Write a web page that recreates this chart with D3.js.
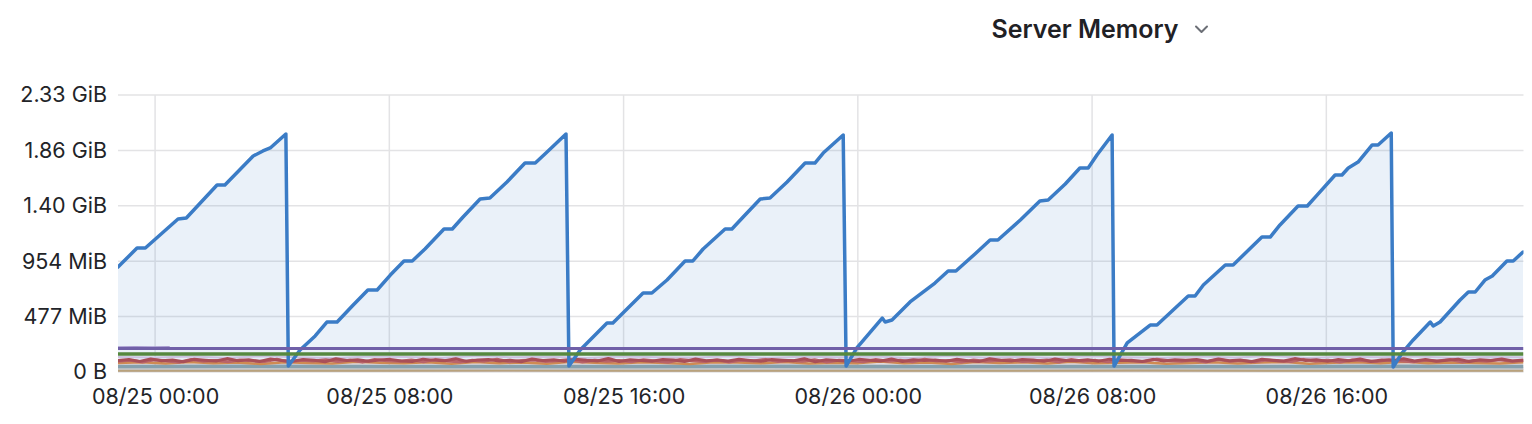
<!DOCTYPE html>
<html>
<head>
<meta charset="utf-8">
<script src="https://cdn.jsdelivr.net/npm/d3@7"></script>
<style>
  html, body { margin: 0; padding: 0; background: #ffffff; }
  svg { display: block; }
  text { font-family: Inter, Roboto, "Noto Sans", sans-serif; }
</style>
</head>
<body>
<svg id="chart" width="1532" height="424"></svg>
<script>
// ---------------- DATA ----------------
const titleText = "Server Memory";
const windowStart = "08/24 22:44";
const windowEnd = "08/26 22:44";

// y ticks (values in MB = 1e6 bytes) and their labels
const yTickValues = [0, 500, 1000, 1500, 2000, 2500];
const yTickLabels = ["0 B", "477 MiB", "954 MiB", "1.40 GiB", "1.86 GiB", "2.33 GiB"];

// x ticks
const xTickTimes = ["08/25 00:00", "08/25 08:00", "08/25 16:00", "08/26 00:00", "08/26 08:00", "08/26 16:00"];

// main (blue) series: time stamps and memory in MB
const mainTimes = [
  "08/24 22:44","08/24 23:23","08/24 23:40","08/25 00:47","08/25 01:04","08/25 02:07","08/25 02:23","08/25 03:21","08/25 03:41","08/25 03:56","08/25 04:28",
  "08/25 04:33","08/25 04:57","08/25 05:28","08/25 05:52","08/25 06:13","08/25 06:44","08/25 07:16","08/25 07:35","08/25 08:02","08/25 08:30","08/25 08:47","08/25 09:13","08/25 09:52","08/25 10:09","08/25 10:31","08/25 11:06","08/25 11:26","08/25 12:01","08/25 12:38","08/25 12:59","08/25 13:21","08/25 14:02",
  "08/25 14:08","08/25 14:31","08/25 15:26","08/25 15:38","08/25 16:40","08/25 16:58","08/25 17:29","08/25 18:06","08/25 18:22","08/25 18:43","08/25 19:28","08/25 19:42","08/25 20:05","08/25 20:40","08/25 21:00","08/25 21:35","08/25 22:12","08/25 22:32","08/25 22:49","08/25 23:30",
  "08/25 23:36","08/25 23:58","08/26 00:50","08/26 00:56","08/26 01:10","08/26 01:47","08/26 02:38","08/26 03:05","08/26 03:21","08/26 04:00","08/26 04:31","08/26 04:47","08/26 05:33","08/26 06:13","08/26 06:30","08/26 07:05","08/26 07:35","08/26 07:52","08/26 08:10","08/26 08:41",
  "08/26 08:45","08/26 09:12","08/26 09:59","08/26 10:13","08/26 11:17","08/26 11:31","08/26 11:48","08/26 12:33","08/26 12:49","08/26 13:48","08/26 14:05","08/26 14:25","08/26 15:02","08/26 15:21","08/26 15:41","08/26 16:18","08/26 16:32","08/26 16:45","08/26 17:05","08/26 17:34","08/26 17:46","08/26 18:13",
  "08/26 18:17","08/26 18:35","08/26 18:58","08/26 19:33","08/26 19:39","08/26 19:53","08/26 20:34","08/26 20:51","08/26 21:05","08/26 21:25","08/26 21:40","08/26 22:10","08/26 22:23","08/26 22:43"
];
const mainMB = [
  947,1119,1119,1381,1390,1688,1688,1949,1995,2022,2148,
  54,199,325,451,451,596,740,740,875,1002,1002,1110,1291,1291,1399,1561,1570,1715,1886,1886,1976,2148,
  54,199,442,442,713,713,830,1002,1002,1110,1291,1291,1399,1561,1570,1715,1886,1886,1976,2139,
  54,217,487,451,469,632,803,912,912,1065,1191,1191,1372,1543,1552,1697,1841,1841,1958,2139,
  54,262,424,424,686,686,785,966,966,1218,1218,1327,1498,1498,1597,1778,1778,1841,1895,2049,2049,2157,
  45,171,289,451,415,451,650,722,722,830,866,1002,1002,1083
];

// lower series (evenly sampled across the 48 h window), values in MB
const purpleMB   = [213, 212, 212, 213, 212, 212, 213, 212, 212, 212, 213, 212];
const purple2MB  = [224, 225, 224, 225];           // short series at the left (22:44 - 00:30)
const purple2End = "08/25 00:30";
const greenMB    = [162, 163, 162, 162, 163, 162, 162, 163, 162, 162, 163, 162];
const lavenderMB = [136, 131, 139, 128, 142, 133, 127, 140, 135, 129, 144, 132, 138, 126, 141, 134, 130, 143, 128, 137,
                    133, 140, 127, 145, 131, 136, 129, 142, 134, 128, 139, 131, 144, 127, 137, 133, 141, 129, 136, 132];
const redMB = [104,112,96,118,101,109,93,115,107,99,121,102,110,95,117,104,98,113,106,92,
               119,103,111,97,108,114,100,94,116,105,101,120,96,109,112,99,107,93,118,103,
               110,98,115,106,100,122,95,111,104,97,113,108,94,117,102,109,99,116,105,96,
               112,107,101,119,93,110,104,98,114,106,100,118,95,111,103,108,97,115,102,94,
               120,106,99,113,109,96,117,104,101,111,98,116,103,107,95,114,100,110,105,112,
               97,118,102,108,93,115,106,99,121,104,110,96,113,101,117,94,109,105,119,100,
               112,98,107,116,95,111,103,118,99,108];
const red2MB = [98,106,91,110,100,88,113,97,104,92,109,101,95,115,90,105,99,111,94,107,
                89,112,102,96,108,93,114,100,91,106,98,116,92,103,109,95,101,112,90,107,
                97,104,93,111,99,88,113,102,95,108,91,105,100,114,94,103,96,110,89,106,
                101,93,112,98,107,92,115,99,104,90,109,96,103,111,94,100,108,91,113,97,
                105,92,110,99,94,116,101,96,107,90,112,98,104,93,109,100,95,114,97,106,
                91,108,102,95,111,99,93,106,100,113,90,104,97,110,96,103];
const orangeMB = [82,88,76,91,79,85,73,89,81,77,92,84,78,87,74,90,80,86,75,93,
                  83,77,89,81,72,88,85,79,91,76,84,80,94,78,86,73,90,82,87,76,
                  92,79,84,88,75,81,89,77,85,91,74,83,87,80,93,78,86,82,76,88];
const greyBlueMB = [50, 51, 50, 49, 50, 51, 50, 50, 49, 50, 51, 50];
const lightGreyMB = [32, 32, 33, 32, 32, 31, 32, 32, 33, 32, 32, 32];
const tanMB = [14, 14, 14, 15, 14, 14, 14, 14, 15, 14, 14, 14];

// ---------------- CHART ----------------
const plot = { left: 118, right: 1523.5, top: 95, bottom: 372 };
const parse = d3.timeParse("%m/%d %H:%M");
const fmt = d3.timeFormat("%m/%d %H:%M");

const t0 = parse(windowStart), t1 = parse(windowEnd);
const x = d3.scaleTime().domain([t0, t1]).range([plot.left, plot.right]);
const y = d3.scaleLinear().domain([0, 2500]).range([plot.bottom, plot.top]);

const svg = d3.select("#chart");

// gridlines
const grid = svg.append("g");
grid.selectAll("line.h").data(yTickValues).join("line")
  .attr("x1", plot.left).attr("x2", plot.right)
  .attr("y1", d => y(d)).attr("y2", d => y(d))
  .attr("stroke", "#e3e3e5").attr("stroke-width", 1.5);
grid.selectAll("line.v").data(xTickTimes.map(parse)).join("line")
  .attr("x1", d => x(d)).attr("x2", d => x(d))
  .attr("y1", plot.top).attr("y2", plot.bottom)
  .attr("stroke", "#e3e3e5").attr("stroke-width", 1.5);

// axes (text only)
const yAxis = d3.axisLeft(y).tickValues(yTickValues)
  .tickFormat((d, i) => yTickLabels[i]).tickSize(0).tickPadding(11);
const gy = svg.append("g").attr("transform", `translate(${plot.left},0)`).call(yAxis);
gy.select(".domain").remove();
gy.selectAll("text").attr("font-size", 21.5).attr("fill", "#222428")
  .attr("font-family", "Inter, Roboto, sans-serif");

const xAxis = d3.axisBottom(x).tickValues(xTickTimes.map(parse)).tickFormat(fmt).tickSize(0).tickPadding(17);
const gx = svg.append("g").attr("transform", `translate(0,${plot.bottom})`).call(xAxis);
gx.select(".domain").remove();
gx.selectAll("text").attr("font-size", 21.5).attr("fill", "#222428")
  .attr("font-family", "Inter, Roboto, sans-serif");

// helpers
function evenSeries(values, start, end) {
  const a = +start, b = +end, n = values.length;
  return values.map((v, i) => ({ t: new Date(a + (b - a) * i / (n - 1)), v }));
}
const mainData = mainTimes.map((s, i) => ({ t: parse(s), v: mainMB[i] }));

const line = d3.line().x(d => x(d.t)).y(d => y(d.v));
const area = d3.area().x(d => x(d.t)).y0(y(0)).y1(d => y(d.v));

svg.append("clipPath").attr("id", "clip").append("rect")
  .attr("x", plot.left).attr("y", plot.top - 5).attr("width", plot.right - plot.left).attr("height", plot.bottom - plot.top + 5);

const g = svg.append("g").attr("clip-path", "url(#clip)");

// blue fill
g.append("path").datum(mainData).attr("d", area)
  .attr("fill", "#3d7cc5").attr("fill-opacity", 0.11);

const lowerSeries = [
  { data: evenSeries(tanMB, t0, t1), color: "#b9a27c", w: 2.5 },
  { data: evenSeries(lightGreyMB, t0, t1), color: "#c4c6ca", w: 2.5 },
  { data: evenSeries(greyBlueMB, t0, t1), color: "#86a0ad", w: 3.5 },
  { data: evenSeries(orangeMB, t0, t1), color: "#cf8b52", w: 2.5 },
  { data: evenSeries(lavenderMB, t0, t1), color: "#cbc3e0", w: 2 },
  { data: evenSeries(red2MB, t0, t1), color: "#b9646a", w: 3 },
  { data: evenSeries(redMB, t0, t1), color: "#a94f58", w: 3 }
];
lowerSeries.forEach(s => {
  g.append("path").datum(s.data).attr("d", area).attr("fill", s.color).attr("fill-opacity", 0.05);
});
lowerSeries.forEach(s => {
  g.append("path").datum(s.data).attr("d", line)
    .attr("fill", "none").attr("stroke", s.color).attr("stroke-width", s.w).attr("stroke-linejoin", "round");
});

// blue line
g.append("path").datum(mainData).attr("d", line)
  .attr("fill", "none").attr("stroke", "#3b7cc6").attr("stroke-width", 3.5)
  .attr("stroke-linejoin", "round").attr("stroke-linecap", "round");

// green + purple on top
const topSeries = [
  { data: evenSeries(greenMB, t0, t1), color: "#56883f", w: 3.5 },
  { data: evenSeries(purple2MB, t0, parse(purple2End)), color: "#a89bd0", w: 2 },
  { data: evenSeries(purpleMB, t0, t1), color: "#7060a8", w: 3 }
];
topSeries.forEach(s => {
  g.append("path").datum(s.data).attr("d", line)
    .attr("fill", "none").attr("stroke", s.color).attr("stroke-width", s.w);
});

// title
svg.append("text").attr("x", 1085).attr("y", 38)
  .attr("text-anchor", "middle").attr("font-size", 25).attr("font-weight", 600)
  .attr("fill", "#1f2125").text(titleText);
// chevron
svg.append("path").attr("d", "M1196,26.5 L1201.5,32 L1207,26.5")
  .attr("fill", "none").attr("stroke", "#6c6f76").attr("stroke-width", 2).attr("stroke-linecap", "round").attr("stroke-linejoin", "round");
</script>
</body>
</html>
